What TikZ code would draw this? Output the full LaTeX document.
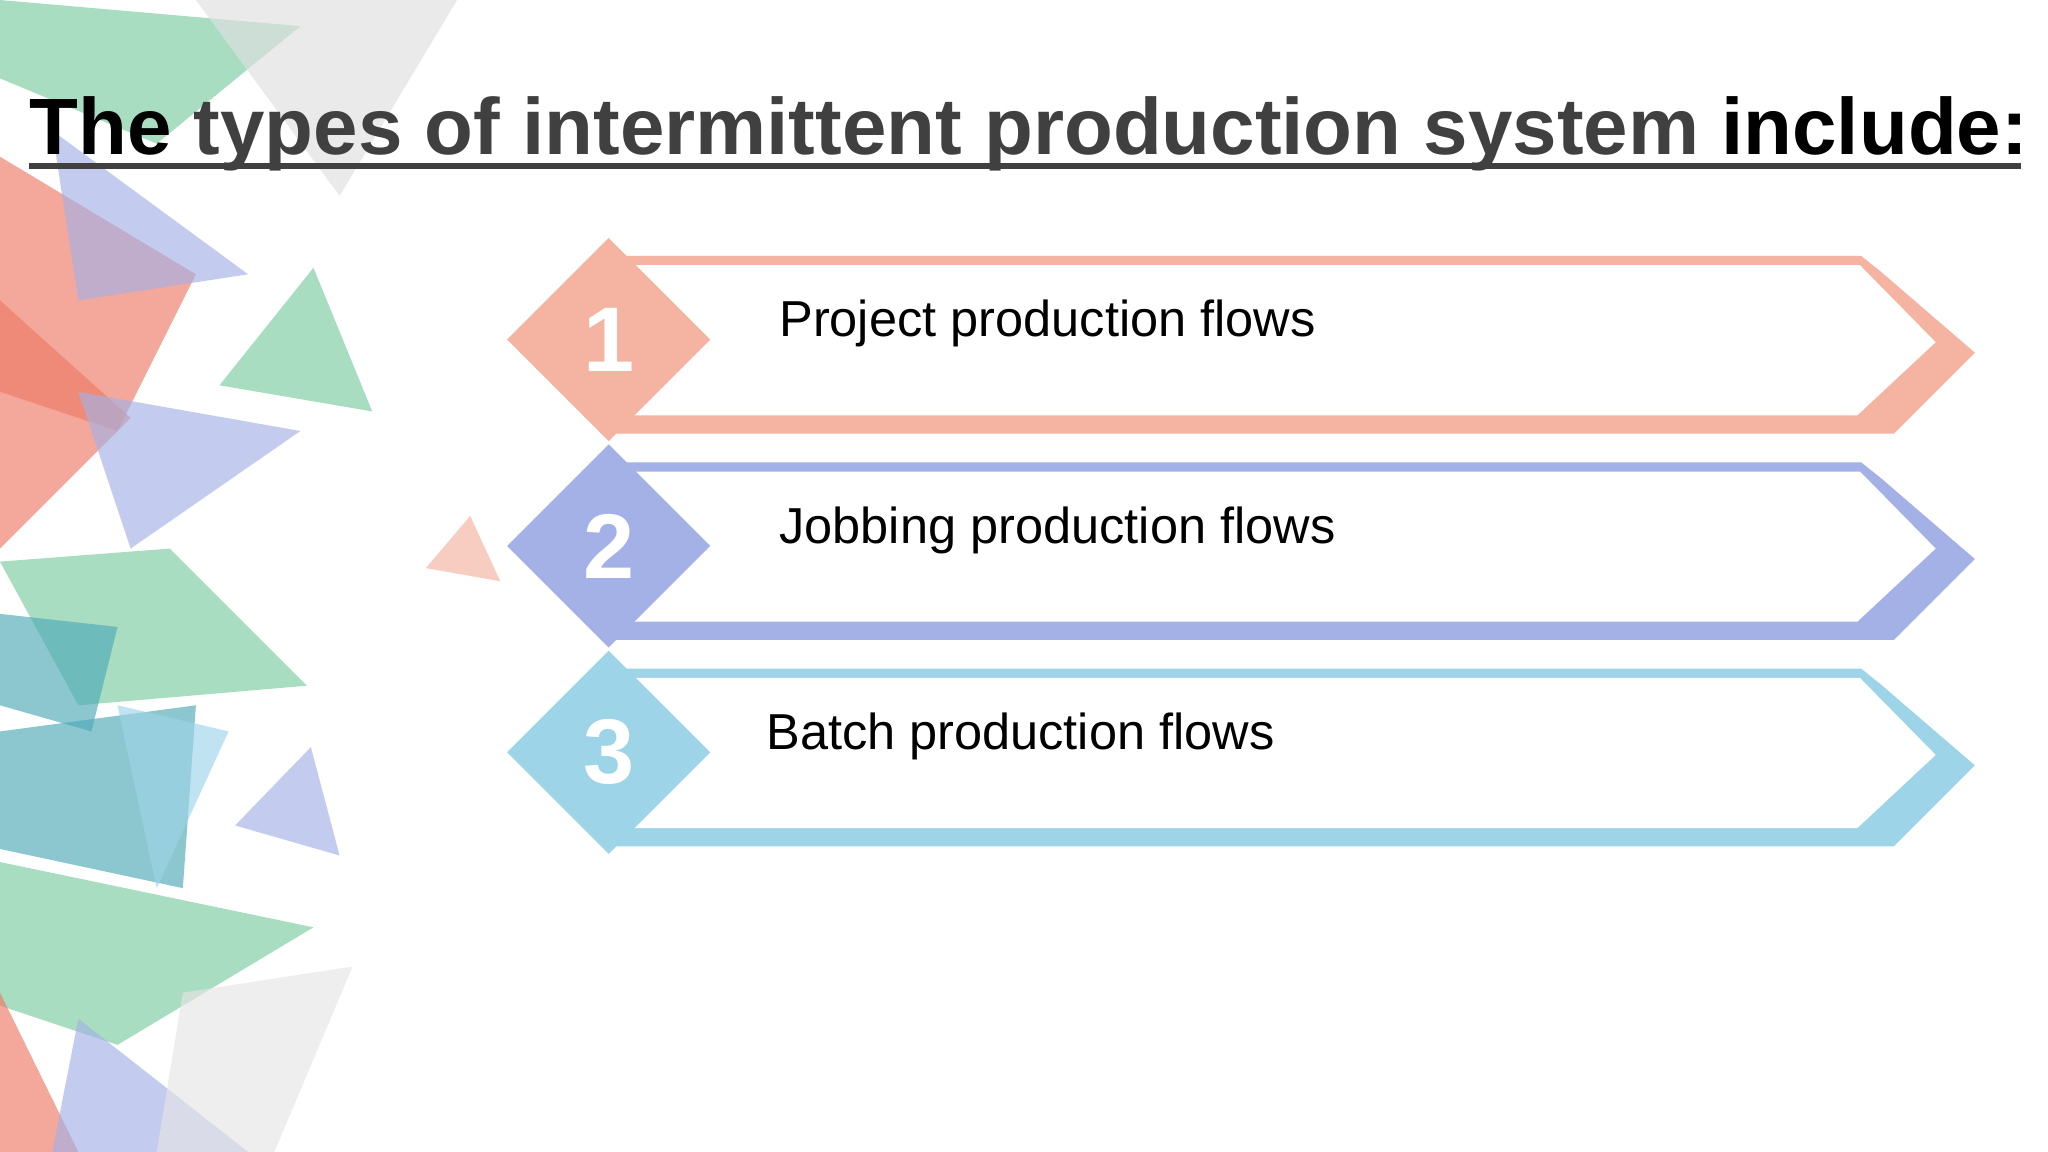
\documentclass[tikz,border=0pt]{standalone}
\usepackage{fontspec}
\setmainfont{Liberation Sans}
\usetikzlibrary{positioning, calc, shapes.geometric}
\definecolor{salmon}{HTML}{F5B3A1}
\definecolor{lilac}{HTML}{A4B1E6}
\definecolor{skyb}{HTML}{9DD4E8}
\definecolor{leaf}{HTML}{7CCBA0}
\definecolor{coral}{HTML}{EE7A66}
\definecolor{teal}{HTML}{4FA9B8}
\definecolor{titlegray}{HTML}{404040}

\begin{document}
\begin{tikzpicture}[x=0.01cm, y=-0.01cm,
        shard/.style={opacity=0.65},
        numdiamond/.style={diamond, minimum width=1.56cm, minimum height=1.56cm, inner sep=0pt, text=white, font=\bfseries\fontsize{20}{20}\selectfont},
        itemtext/.style={anchor=base west, inner sep=0pt, font=\fontsize{11}{11}\selectfont}]
        \useasboundingbox (0,0) rectangle (1568,882);
        \fill[white] (0,0) rectangle (1568,882);

        % Background shards
        \fill[shard, leaf] (0,0) -- (230,20) -- (120,110) -- (0,60) -- cycle;
        \fill[shard, black!12] (150,0) -- (350,0) -- (260,150) -- cycle;
        \fill[shard, coral] (0,120) -- (150,210) -- (90,330) -- (0,300) -- cycle;
        \fill[shard, lilac] (40,100) -- (190,210) -- (60,230) -- cycle;
        \fill[shard, coral] (0,230) -- (100,320) -- (0,420) -- cycle;
        \fill[shard, lilac] (60,300) -- (230,330) -- (100,420) -- cycle;
        \fill[shard, leaf] (240,205) -- (285,315) -- (168,295) -- cycle;
        \fill[shard, salmon] (360,395) -- (383,445) -- (326,435) -- cycle;
        \fill[shard, leaf] (0,430) -- (130,420) -- (235,525) -- (60,540) -- cycle;
        \fill[shard, teal] (0,470) -- (90,480) -- (70,560) -- (0,540) -- cycle;
        \fill[shard, teal] (0,560) -- (150,540) -- (140,680) -- (0,650) -- cycle;
        \fill[shard, skyb] (90,540) -- (175,560) -- (120,680) -- cycle;
        \fill[shard, lilac] (238,572) -- (260,655) -- (180,632) -- cycle;
        \fill[shard, leaf] (0,660) -- (240,710) -- (90,800) -- (0,770) -- cycle;
        \fill[shard, coral] (0,760) -- (60,882) -- (0,882) -- cycle;
        \fill[shard, lilac] (60,780) -- (190,882) -- (40,882) -- cycle;
        \fill[shard, black!10] (140,760) -- (270,740) -- (210,882) -- (120,882) -- cycle;

        % Title
        \node[anchor=base west, inner sep=0pt, font=\bfseries\fontsize{17.4}{17.4}\selectfont] (title) at (22,118)
            {The \textcolor{titlegray}{types of intermittent production system} include:};
        \draw[line width=1.2pt, titlegray] (22,127) -- (1547,127);

        % Rows
        \foreach \n/\c/\t/\dx [count=\i from 0] in {1/salmon/Project production flows/0,
                2/lilac/Jobbing production flows/0, 3/skyb/Batch production flows/-10} {
            \begin{scope}[yshift=-\i*158*0.01cm]
                \fill[\c] (470,196) -- (1425,196) -- (1440,208) -- (1512,270) -- (1450,332) -- (470,332) -- cycle;
                \fill[white] (482,203) -- (1424,203) -- (1482,262) -- (1422,318) -- (482,318) -- cycle;
                \node[numdiamond, fill=\c] (num\n) at (466,260) {\raisebox{-0.5ex}{\n}};
                \node[itemtext] (item\n) at (596+\dx,258) {\t};
            \end{scope}
        }
\end{tikzpicture}
\end{document}
